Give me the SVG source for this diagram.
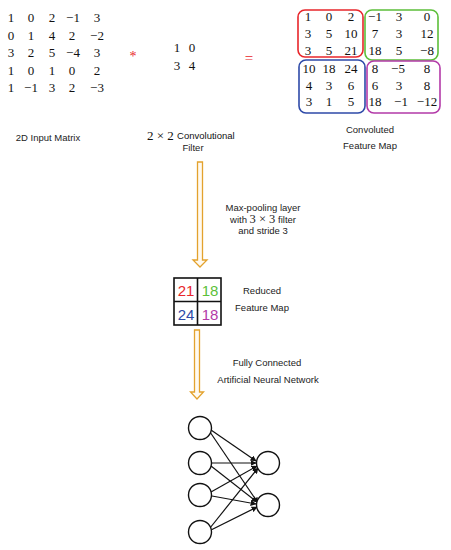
<svg xmlns="http://www.w3.org/2000/svg" width="451" height="550" viewBox="0 0 451 550">
<style>
.m{font-family:"Liberation Serif","DejaVu Serif",serif;font-size:13px;fill:#111;text-anchor:middle;dominant-baseline:central}
.l{font-family:"Liberation Sans",Arial,sans-serif;font-size:9.5px;fill:#222;text-anchor:middle;dominant-baseline:central}
.g{font-family:"Liberation Sans",Arial,sans-serif;font-size:15px;text-anchor:middle;dominant-baseline:central}
.box{fill:none;stroke-width:1.6}
.arr{fill:#fffaf0;stroke:#e3a22d;stroke-width:1.3}
.n{fill:#fff;stroke:#111;stroke-width:1.4}
.e{stroke:#111;stroke-width:1.2;marker-end:url(#ah)}
</style>
<defs>
<marker id="ah" viewBox="0 0 10 10" refX="9" refY="5" markerWidth="6" markerHeight="6" orient="auto" markerUnits="userSpaceOnUse">
<path d="M0,0 L10,5 L0,10 z" fill="#111"/>
</marker>
</defs>
<rect width="451" height="550" fill="#fff"/>

<g id="input-matrix">
<text class="m" x="11" y="17">1</text><text class="m" x="31" y="17">0</text><text class="m" x="52" y="17">2</text><text class="m" x="73" y="17">−1</text><text class="m" x="97" y="17">3</text>
<text class="m" x="11" y="35">0</text><text class="m" x="31" y="35">1</text><text class="m" x="52" y="35">4</text><text class="m" x="72" y="35">2</text><text class="m" x="97" y="35">−2</text>
<text class="m" x="11" y="52">3</text><text class="m" x="31" y="52">2</text><text class="m" x="52" y="52">5</text><text class="m" x="73" y="52">−4</text><text class="m" x="97" y="52">3</text>
<text class="m" x="11" y="70">1</text><text class="m" x="31" y="70">0</text><text class="m" x="52" y="70">1</text><text class="m" x="72" y="70">0</text><text class="m" x="97" y="70">2</text>
<text class="m" x="11" y="87">1</text><text class="m" x="31" y="87">−1</text><text class="m" x="52" y="87">3</text><text class="m" x="72" y="87">2</text><text class="m" x="97" y="87">−3</text>
<text class="l" x="48" y="137">2D Input Matrix</text>
</g>

<g id="operators">
<text class="m" x="133" y="56" style="fill:#e8262b;font-size:14px">*</text>
<text class="m" x="249" y="58" style="fill:#e8262b;font-size:15px">=</text>
</g>

<g id="filter">
<text class="m" x="177" y="47">1</text><text class="m" x="192" y="47">0</text>
<text class="m" x="177" y="65">3</text><text class="m" x="192" y="65">4</text>
<text x="147" y="135" style="font-family:'Liberation Serif',serif;font-size:13px;fill:#111;dominant-baseline:central">2 × 2 <tspan style="font-family:'Liberation Sans',Arial,sans-serif;font-size:9.5px">Convolutional</tspan></text>
<text class="l" x="193" y="147">Filter</text>
</g>

<g id="feature-map">
<rect class="box" x="298" y="10" width="65" height="47" rx="7" stroke="#e8262b"/>
<rect class="box" x="365" y="10" width="73" height="50" rx="7" stroke="#5cbf3a"/>
<rect class="box" x="299" y="60" width="66" height="53" rx="7" stroke="#2e4aa8"/>
<rect class="box" x="367" y="61" width="73" height="52" rx="7" stroke="#b33aa8"/>
<text class="m" x="308" y="16">1</text><text class="m" x="329" y="16">0</text><text class="m" x="351" y="16">2</text>
<text class="m" x="375" y="16">−1</text><text class="m" x="399" y="16">3</text><text class="m" x="427" y="16">0</text>
<text class="m" x="308" y="33">3</text><text class="m" x="329" y="33">5</text><text class="m" x="351" y="33">10</text>
<text class="m" x="375" y="33">7</text><text class="m" x="399" y="33">3</text><text class="m" x="427" y="33">12</text>
<text class="m" x="308" y="50">3</text><text class="m" x="329" y="50">5</text><text class="m" x="351" y="50">21</text>
<text class="m" x="375" y="50">18</text><text class="m" x="399" y="50">5</text><text class="m" x="427" y="50">−8</text>
<text class="m" x="309" y="68">10</text><text class="m" x="329" y="68">18</text><text class="m" x="351" y="68">24</text>
<text class="m" x="375" y="68">8</text><text class="m" x="398" y="68">−5</text><text class="m" x="427" y="68">8</text>
<text class="m" x="309" y="85">4</text><text class="m" x="329" y="85">3</text><text class="m" x="351" y="85">6</text>
<text class="m" x="375" y="85">6</text><text class="m" x="399" y="85">3</text><text class="m" x="427" y="85">8</text>
<text class="m" x="309" y="101">3</text><text class="m" x="329" y="101">1</text><text class="m" x="351" y="101">5</text>
<text class="m" x="375" y="101">18</text><text class="m" x="401" y="101">−1</text><text class="m" x="427" y="101">−12</text>
<text class="l" x="370" y="129">Convoluted</text>
<text class="l" x="370" y="145">Feature Map</text>
</g>

<g id="connectors">
<path class="arr" d="M197.5,162 H202.5 V260 H207 L200,267 L193,260 H197.5 Z"/>
<path class="arr" d="M194.5,330 H199.5 V392 H203.5 L197,399 L190.5,392 H194.5 Z"/>
<line class="e" x1="211" y1="430" x2="256" y2="461"/>
<line class="e" x1="210" y1="432" x2="258" y2="503"/>
<line class="e" x1="212" y1="463" x2="256" y2="463"/>
<line class="e" x1="211" y1="466" x2="257" y2="502"/>
<line class="e" x1="211" y1="492" x2="257" y2="466"/>
<line class="e" x1="212" y1="496" x2="256" y2="504"/>
<line class="e" x1="210" y1="528" x2="258" y2="468"/>
<line class="e" x1="211" y1="530" x2="257" y2="507"/>
</g>

<g id="pooling-label">
<text class="l" x="263" y="207">Max-pooling layer</text>
<text x="263" y="219" text-anchor="middle" style="dominant-baseline:central;fill:#222"><tspan style="font-family:'Liberation Sans',Arial,sans-serif;font-size:9.5px">with </tspan><tspan style="font-family:'Liberation Serif',serif;font-size:12.5px">3 × 3</tspan><tspan style="font-family:'Liberation Sans',Arial,sans-serif;font-size:9.5px"> filter</tspan></text>
<text class="l" x="263" y="230">and stride 3</text>
</g>

<g id="reduced-map">
<rect x="174" y="278" width="47" height="47" fill="#fff" stroke="#111" stroke-width="1.6"/>
<line x1="197.5" y1="278" x2="197.5" y2="325" stroke="#111" stroke-width="1.6"/>
<line x1="174" y1="301.5" x2="221" y2="301.5" stroke="#111" stroke-width="1.6"/>
<text class="g" x="186" y="290" fill="#e8262b">21</text>
<text class="g" x="210" y="290" fill="#5cbf3a">18</text>
<text class="g" x="186" y="314" fill="#2e4aa8">24</text>
<text class="g" x="210" y="314" fill="#b33aa8">18</text>
<text class="l" x="262" y="290">Reduced</text>
<text class="l" x="262" y="307">Feature Map</text>
</g>

<g id="ann-label">
<text class="l" x="267" y="362">Fully Connected</text>
<text class="l" x="268" y="379">Artificial Neural Network</text>
</g>

<g id="in1"><circle class="n" cx="200" cy="428" r="11.5"/></g>
<g id="in2"><circle class="n" cx="200" cy="463" r="11.5"/></g>
<g id="in3"><circle class="n" cx="200" cy="495" r="11.5"/></g>
<g id="in4"><circle class="n" cx="200" cy="532" r="11.5"/></g>
<g id="out1"><circle class="n" cx="268" cy="463" r="11.5"/></g>
<g id="out2"><circle class="n" cx="268" cy="505" r="11.5"/></g>
</svg>
